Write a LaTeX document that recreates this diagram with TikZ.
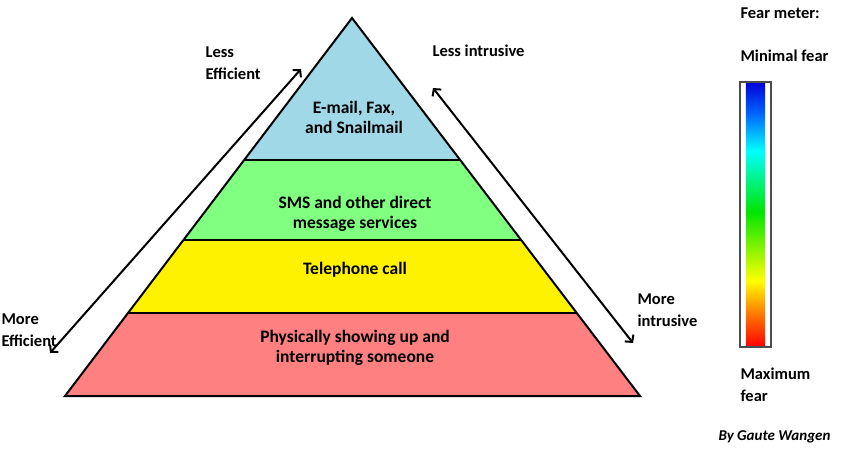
\documentclass[tikz,border=0pt]{standalone}
\usepackage{fontspec}
\setmainfont{Carlito}
\usetikzlibrary{arrows.meta}
\definecolor{topblue}{RGB}{160,216,232}
\pgfdeclareverticalshading{fear}{31bp}{color(0bp)=(red); color(25bp)=(red); color(31bp)=(orange!90!red); color(37.5bp)=(yellow); color(50.5bp)=(green!90!black); color(62bp)=(cyan); color(69bp)=(blue!60!cyan); color(75bp)=(blue!85!black); color(100bp)=(blue!85!black)}
\tikzset{lbl/.style={font=\bfseries\fontsize{17.5}{20}\selectfont, align=center},
 side/.style={font=\bfseries\fontsize{16.5}{22}\selectfont, align=left},
 arr/.style={{Straight Barb[length=5pt,width=11pt]}-{Straight Barb[length=5pt,width=11pt]}, line width=2pt}}
\begin{document}
\begin{tikzpicture}[x=1pt,y=-1pt]
\useasboundingbox (0,0) rectangle (850,454);
\coordinate (A) at (352,18); \coordinate (BL) at (65,396); \coordinate (BR) at (640,396);
\fill[red!50!white] (BL) -- (BR) -- (577,313) -- (128,313) -- cycle;
\fill[yellow] (128,313) -- (577,313) -- (521,240) -- (183.5,240) -- cycle;
\fill[green!50!white] (183.5,240) -- (521,240) -- (460,160) -- (244,160) -- cycle;
\fill[topblue] (244,160) -- (460,160) -- (A) -- cycle;
\draw[line width=2pt] (128,313) -- (577,313) (183.5,240) -- (521,240) (244,160) -- (460,160);
\draw[line width=2pt, line join=miter] (A) -- (BR) -- (BL) -- cycle;
\node[lbl] (t1) at (354,117) {E-mail, Fax,\\and Snailmail};
\node[lbl] (t2) at (355,214) {SMS and other direct\\message services};
\node[lbl] (t3) at (355,270) {Telephone call};
\node[lbl] (t4) at (355,348) {Physically showing up and\\interrupting someone};
\coordinate (la) at (301,69); \coordinate (lb) at (50,353);
\coordinate (ra) at (433,88); \coordinate (rb) at (633,343);
\draw[arr] (la) -- (lb);
\draw[arr] (ra) -- (rb);
\node[side, anchor=west] (le) at (202,63) {Less\\Efficient};
\node[side, anchor=west] (li) at (429,51) {Less intrusive};
\node[side, anchor=west] (me) at (-2,330) {More\\Efficient};
\node[side, anchor=west] (mi) at (634,310) {More\\intrusive};
\node[side, anchor=west] (fm) at (737,13) {Fear meter:};
\node[side, anchor=west] (mf) at (737,56) {Minimal fear};
\node[side, anchor=west] (xf) at (737,385) {Maximum\\fear};
\shade[shading=fear, draw=black!70, line width=1.2pt] (740,82) rectangle (771,347);
\node[font=\bfseries\itshape\fontsize{15}{17}\selectfont, anchor=east] (by) at (834,437) {By Gaute Wangen};
\end{tikzpicture}
\end{document}
